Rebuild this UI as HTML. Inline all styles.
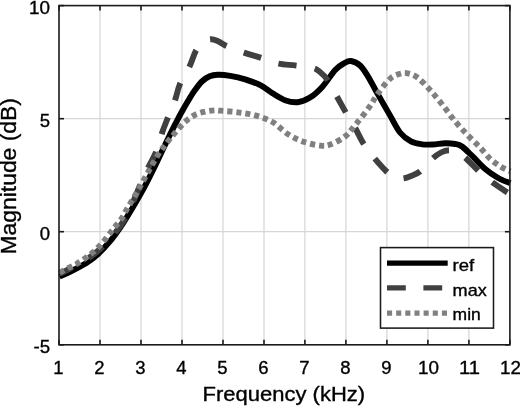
<!DOCTYPE html>
<html><head><meta charset="utf-8"><title>Magnitude vs Frequency</title>
<style>
html,body{margin:0;padding:0;background:#fff;}
svg{display:block;filter:blur(0.45px);font-family:"Liberation Sans",Arial,Helvetica,sans-serif;}
</style></head><body>
<svg width="520" height="407" viewBox="0 0 520 407">
<rect width="520" height="407" fill="#fff"/>
<g stroke="#d6d6d6" stroke-width="1.2" fill="none"><line x1="100.0" y1="5.6" x2="100.0" y2="344.8"/><line x1="141.0" y1="5.6" x2="141.0" y2="344.8"/><line x1="182.0" y1="5.6" x2="182.0" y2="344.8"/><line x1="223.0" y1="5.6" x2="223.0" y2="344.8"/><line x1="264.0" y1="5.6" x2="264.0" y2="344.8"/><line x1="304.9" y1="5.6" x2="304.9" y2="344.8"/><line x1="345.9" y1="5.6" x2="345.9" y2="344.8"/><line x1="386.9" y1="5.6" x2="386.9" y2="344.8"/><line x1="427.9" y1="5.6" x2="427.9" y2="344.8"/><line x1="468.9" y1="5.6" x2="468.9" y2="344.8"/><line x1="59.0" y1="231.7" x2="509.9" y2="231.7"/><line x1="59.0" y1="118.7" x2="509.9" y2="118.7"/></g>
<g fill="none" stroke-linejoin="round">
<path d="M59.5,276.6C61.3,275.8 66.1,273.7 70.5,271.5C74.9,269.3 81.5,266.0 86.0,263.2C90.5,260.4 93.3,258.5 97.5,254.6C101.7,250.7 107.6,244.2 111.4,239.6C115.2,235.0 117.7,231.4 120.5,227.2C123.3,223.0 125.5,219.5 128.5,214.5C131.6,209.5 135.5,202.9 138.8,197.1C142.1,191.3 145.6,184.7 148.1,179.8C150.6,175.0 152.0,172.1 154.0,168.0C156.0,163.9 158.1,159.6 160.0,155.5C161.9,151.4 163.8,147.5 165.6,143.7C167.4,139.9 169.1,136.5 171.0,132.6C172.9,128.7 175.1,124.4 177.2,120.4C179.3,116.4 181.4,112.5 183.5,108.8C185.6,105.1 187.6,101.6 189.5,98.5C191.4,95.4 192.9,92.8 195.0,90.0C197.1,87.2 199.5,83.8 201.9,81.5C204.3,79.2 207.1,77.4 209.7,76.3C212.3,75.2 214.2,74.9 217.6,74.8C221.0,74.7 225.6,75.1 230.2,75.9C234.8,76.7 240.2,77.9 245.2,79.4C250.2,81.0 255.8,82.9 260.3,85.2C264.9,87.5 268.4,90.8 272.5,93.3C276.6,95.8 280.8,98.7 285.0,100.2C289.2,101.7 293.4,102.6 297.6,102.2C301.8,101.8 305.8,100.2 310.0,97.6C314.2,95.0 318.5,91.0 322.7,86.4C326.9,81.8 331.6,73.9 335.2,70.0C338.8,66.1 341.9,64.5 344.5,63.0C347.1,61.5 348.4,60.6 351.0,61.0C353.6,61.4 357.3,63.0 360.1,65.5C362.9,68.0 365.3,72.2 367.9,76.3C370.5,80.4 373.3,86.1 375.6,90.2C377.9,94.3 379.4,96.9 381.8,101.1C384.2,105.3 387.0,110.2 390.0,115.4C393.0,120.6 396.5,128.2 400.0,132.5C403.5,136.8 407.3,139.4 411.0,141.4C414.7,143.4 418.4,143.8 422.0,144.3C425.6,144.8 428.8,144.7 432.7,144.5C436.6,144.3 441.4,143.4 445.2,143.3C448.9,143.2 452.4,143.5 455.2,144.0C458.0,144.5 459.1,144.4 462.0,146.5C464.9,148.6 468.8,152.7 472.7,156.4C476.6,160.1 481.0,165.4 485.2,168.9C489.4,172.4 493.6,175.3 497.8,177.7C502.0,180.1 508.2,182.3 510.3,183.2" stroke="#000" stroke-width="5.9"/>
<path d="M59.5,273.8C61.2,273.0 65.3,271.0 69.5,268.8C73.7,266.6 79.7,263.7 84.5,260.7C89.3,257.7 93.6,254.8 98.1,250.8C102.6,246.9 107.4,242.0 111.7,237.0C116.0,232.0 120.3,226.3 123.8,220.6C127.3,214.9 129.8,209.1 132.6,203.0C135.4,196.9 137.9,190.1 140.6,184.0C143.3,177.9 146.2,171.8 148.8,166.4C151.4,161.0 154.1,157.0 156.3,151.4C158.5,145.8 160.2,138.3 162.1,132.7C164.0,127.1 165.7,123.2 167.8,117.8C170.0,112.4 173.0,105.8 175.0,100.2C177.0,94.6 177.6,89.5 180.0,83.9C182.4,78.3 187.0,71.8 189.6,66.4C192.2,61.0 193.4,55.4 195.6,51.3C197.8,47.2 200.4,44.0 203.0,42.0C205.6,40.0 208.5,39.3 211.0,39.2C213.5,39.1 215.4,40.1 218.0,41.2C220.6,42.3 222.1,44.1 226.4,46.0C230.7,47.9 238.3,50.7 244.0,52.6C249.7,54.5 254.7,55.8 260.3,57.6C265.9,59.4 271.5,62.2 277.5,63.5C283.5,64.8 290.4,64.8 296.3,65.6C302.2,66.3 309.2,66.9 313.1,68.0C317.1,69.1 317.6,70.1 320.0,72.0C322.4,73.9 324.5,75.7 327.2,79.6C329.9,83.5 333.4,90.3 336.4,95.6C339.4,100.9 342.1,106.0 345.2,111.4C348.3,116.8 352.2,122.7 355.2,128.0C358.2,133.3 360.1,138.2 363.2,143.1C366.3,148.0 370.1,153.0 374.0,157.7C377.9,162.4 383.0,168.2 386.5,171.5C390.0,174.8 392.3,176.3 395.0,177.5C397.7,178.7 399.9,178.8 402.6,178.5C405.3,178.2 408.1,177.2 411.0,176.0C413.9,174.8 416.5,174.3 420.1,171.4C423.7,168.5 429.1,161.7 432.6,158.5C436.1,155.3 438.3,153.9 441.0,152.5C443.7,151.1 446.2,150.4 448.9,150.3C451.6,150.2 454.3,150.8 457.0,152.0C459.7,153.2 461.5,154.4 465.2,157.6C468.9,160.8 474.4,167.2 479.0,171.4C483.6,175.6 488.0,179.1 492.8,182.7C497.6,186.2 504.9,190.8 507.8,192.7C510.7,194.6 509.9,193.8 510.3,194.0" stroke="#404040" stroke-width="5.9" stroke-dasharray="18.2 18.3" stroke-dashoffset="3.3"/>
<path d="M59.5,272.8C61.0,272.0 65.9,269.3 68.7,267.8C71.5,266.3 73.9,265.4 76.5,263.9C79.1,262.4 81.8,260.6 84.3,258.8C86.8,257.0 89.3,255.2 91.7,253.3C94.1,251.4 96.3,249.2 98.4,247.1C100.5,245.0 102.4,242.8 104.3,240.5C106.2,238.2 108.2,235.5 110.0,233.2C111.8,230.8 113.5,228.8 115.4,226.4C117.3,224.0 119.8,221.2 121.5,218.6C123.2,216.0 124.2,213.7 125.8,211.0C127.4,208.3 129.2,205.3 131.0,202.3C132.8,199.3 134.2,197.1 136.5,193.0C138.8,188.9 141.5,183.9 145.0,177.7C148.5,171.4 153.8,161.5 157.6,155.5C161.4,149.5 164.7,145.6 167.6,141.8C170.5,138.0 172.1,136.2 175.0,132.9C177.9,129.6 181.7,124.9 185.0,121.9C188.3,118.9 191.7,116.5 195.0,114.8C198.3,113.1 201.7,112.3 205.0,111.6C208.3,110.8 212.5,110.4 215.0,110.3C217.5,110.2 216.2,110.4 220.0,110.7C223.8,111.0 231.9,111.5 237.8,112.3C243.7,113.1 249.4,113.8 255.2,115.4C261.0,117.0 267.1,118.9 272.5,122.0C277.9,125.1 282.5,130.7 287.5,133.9C292.5,137.1 297.2,139.5 302.6,141.4C308.0,143.3 315.5,145.1 320.1,145.6C324.7,146.1 326.0,146.1 330.2,144.6C334.4,143.1 341.0,139.7 345.2,136.4C349.4,133.2 351.2,129.9 355.2,125.1C359.2,120.3 365.2,112.7 369.0,107.5C372.8,102.3 374.3,98.6 377.8,93.8C381.3,89.0 386.3,82.1 390.0,78.8C393.7,75.5 397.1,74.7 400.0,73.8C402.9,72.9 404.7,72.7 407.6,73.3C410.5,73.9 413.8,74.8 417.6,77.6C421.4,80.4 426.0,85.5 430.2,90.1C434.4,94.7 438.5,99.9 442.7,105.1C446.9,110.3 451.0,116.4 455.2,121.4C459.4,126.4 463.5,130.8 467.7,135.2C471.9,139.6 476.5,143.8 480.3,147.7C484.1,151.6 487.0,155.8 490.3,158.9C493.6,162.0 497.0,164.3 500.3,166.4C503.6,168.5 508.6,170.6 510.3,171.4" stroke="#808080" stroke-width="5.8" stroke-dasharray="5.15 3.92"/>
</g>
<g stroke="#1a1a1a" stroke-width="1.6" fill="none"><line x1="59.0" y1="344.8" x2="59.0" y2="339.8"/><line x1="59.0" y1="5.6" x2="59.0" y2="10.6"/><line x1="100.0" y1="344.8" x2="100.0" y2="339.8"/><line x1="100.0" y1="5.6" x2="100.0" y2="10.6"/><line x1="141.0" y1="344.8" x2="141.0" y2="339.8"/><line x1="141.0" y1="5.6" x2="141.0" y2="10.6"/><line x1="182.0" y1="344.8" x2="182.0" y2="339.8"/><line x1="182.0" y1="5.6" x2="182.0" y2="10.6"/><line x1="223.0" y1="344.8" x2="223.0" y2="339.8"/><line x1="223.0" y1="5.6" x2="223.0" y2="10.6"/><line x1="264.0" y1="344.8" x2="264.0" y2="339.8"/><line x1="264.0" y1="5.6" x2="264.0" y2="10.6"/><line x1="304.9" y1="344.8" x2="304.9" y2="339.8"/><line x1="304.9" y1="5.6" x2="304.9" y2="10.6"/><line x1="345.9" y1="344.8" x2="345.9" y2="339.8"/><line x1="345.9" y1="5.6" x2="345.9" y2="10.6"/><line x1="386.9" y1="344.8" x2="386.9" y2="339.8"/><line x1="386.9" y1="5.6" x2="386.9" y2="10.6"/><line x1="427.9" y1="344.8" x2="427.9" y2="339.8"/><line x1="427.9" y1="5.6" x2="427.9" y2="10.6"/><line x1="468.9" y1="344.8" x2="468.9" y2="339.8"/><line x1="468.9" y1="5.6" x2="468.9" y2="10.6"/><line x1="509.9" y1="344.8" x2="509.9" y2="339.8"/><line x1="509.9" y1="5.6" x2="509.9" y2="10.6"/><line x1="59.0" y1="344.8" x2="64.0" y2="344.8"/><line x1="509.9" y1="344.8" x2="504.9" y2="344.8"/><line x1="59.0" y1="231.7" x2="64.0" y2="231.7"/><line x1="509.9" y1="231.7" x2="504.9" y2="231.7"/><line x1="59.0" y1="118.7" x2="64.0" y2="118.7"/><line x1="509.9" y1="118.7" x2="504.9" y2="118.7"/><line x1="59.0" y1="5.6" x2="64.0" y2="5.6"/><line x1="509.9" y1="5.6" x2="504.9" y2="5.6"/>
<rect x="59.0" y="5.6" width="450.9" height="339.2"/></g>
<g font-size="18.5" fill="#000" stroke="#000" stroke-width="0.35"><text x="53.2" y="373.5" textLength="10.3" lengthAdjust="spacingAndGlyphs">1</text><text x="94.2" y="373.5" textLength="10.3" lengthAdjust="spacingAndGlyphs">2</text><text x="135.2" y="373.5" textLength="10.3" lengthAdjust="spacingAndGlyphs">3</text><text x="176.2" y="373.5" textLength="10.3" lengthAdjust="spacingAndGlyphs">4</text><text x="217.2" y="373.5" textLength="10.3" lengthAdjust="spacingAndGlyphs">5</text><text x="258.2" y="373.5" textLength="10.3" lengthAdjust="spacingAndGlyphs">6</text><text x="299.2" y="373.5" textLength="10.3" lengthAdjust="spacingAndGlyphs">7</text><text x="340.2" y="373.5" textLength="10.3" lengthAdjust="spacingAndGlyphs">8</text><text x="381.2" y="373.5" textLength="10.3" lengthAdjust="spacingAndGlyphs">9</text><text x="418.0" y="373.5" textLength="21.0" lengthAdjust="spacingAndGlyphs">10</text><text x="459.0" y="373.5" textLength="21.0" lengthAdjust="spacingAndGlyphs">11</text><text x="500.0" y="373.5" textLength="21.0" lengthAdjust="spacingAndGlyphs">12</text><text x="33.5" y="353.3" textLength="16.6" lengthAdjust="spacingAndGlyphs">-5</text><text x="39.8" y="240.2" textLength="10.3" lengthAdjust="spacingAndGlyphs">0</text><text x="39.8" y="127.2" textLength="10.3" lengthAdjust="spacingAndGlyphs">5</text><text x="29.1" y="14.1" textLength="21.0" lengthAdjust="spacingAndGlyphs">10</text></g>
<text x="202.6" y="401.1" font-size="20" fill="#000" stroke="#000" stroke-width="0.35" textLength="162.5" lengthAdjust="spacingAndGlyphs">Frequency (kHz)</text>
<text transform="translate(16.3,254.5) rotate(-90)" font-size="21.5" fill="#000" stroke="#000" stroke-width="0.35" textLength="156.4" lengthAdjust="spacingAndGlyphs">Magnitude (dB)</text>
<rect x="380.5" y="247.6" width="113" height="80.5" fill="#fff" stroke="#1a1a1a" stroke-width="1.55"/>
<g fill="none">
<line x1="387" y1="263.2" x2="447.7" y2="263.2" stroke="#000" stroke-width="5.2"/>
<line x1="387" y1="287.9" x2="447.7" y2="287.9" stroke="#404040" stroke-width="5.2" stroke-dasharray="18.8 17.6"/>
<line x1="387" y1="313.2" x2="447.7" y2="313.2" stroke="#808080" stroke-width="5.2" stroke-dasharray="5.1 4.05"/>
</g>
<g font-size="17" fill="#000" stroke="#000" stroke-width="0.35">
<text x="452.6" y="270.6" textLength="21.6" lengthAdjust="spacingAndGlyphs">ref</text>
<text x="452.6" y="295.8" textLength="34.2" lengthAdjust="spacingAndGlyphs">max</text>
<text x="452.6" y="320.3" textLength="28.2" lengthAdjust="spacingAndGlyphs">min</text>
</g>
</svg>
</body></html>
